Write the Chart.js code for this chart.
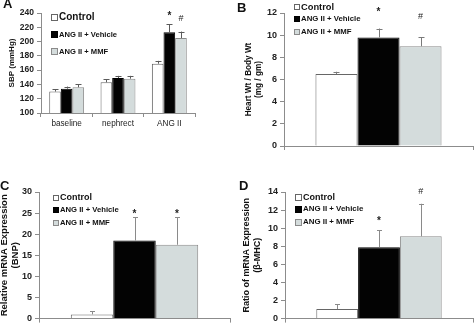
<!DOCTYPE html>
<html>
<head>
<meta charset="utf-8">
<script src="https://cdn.jsdelivr.net/npm/chart.js@4.4.1/dist/chart.umd.min.js"></script>
<style>
  html, body { margin: 0; padding: 0; background: #fff; }
  #wrap { position: relative; width: 474px; height: 327px; overflow: hidden; background: #fff; }
  #wrap canvas { position: absolute; }
</style>
</head>
<body>
<div id="wrap">
  <canvas id="pA" width="237" height="163" style="left:0;top:0"></canvas>
  <canvas id="pB" width="237" height="163" style="left:237px;top:0"></canvas>
  <canvas id="pC" width="237" height="164" style="left:0;top:163px"></canvas>
  <canvas id="pD" width="237" height="164" style="left:237px;top:163px"></canvas>
</div>
<script>
// ---- series names ----
const seriesNames = ['Control', 'ANG II + Vehicle', 'ANG II + MMF'];

// ---- A: systolic blood pressure (mmHg) ----
const sbpStages = ['baseline', 'nephrect', 'ANG II'];
const sbpControl = [130, 143, 169];
const sbpControlErr = [3, 4, 4];
const sbpVehicle = [134, 149, 213];
const sbpVehicleErr = [3, 3, 11];
const sbpMMF = [136, 148, 205];
const sbpMMFErr = [4, 4, 9];
const sbpMarks = [['', '', ''], ['', '', '*'], ['', '', '#']];
const sbpTicks = { min: 100, max: 240, step: 20 };

// ---- B: heart weight / body weight (mg / gm) ----
const hwControl = [6.5];
const hwControlErr = [0.2];
const hwVehicle = [9.8];
const hwVehicleErr = [0.8];
const hwMMF = [9.0];
const hwMMFErr = [0.8];
const hwMarks = [[''], ['*'], ['#']];
const hwTicks = { min: 0, max: 12, step: 2 };

// ---- C: relative BNP mRNA expression ----
const bnpControl = [1.0];
const bnpControlErr = [0.8];
const bnpVehicle = [18.5];
const bnpVehicleErr = [5.5];
const bnpMMF = [17.5];
const bnpMMFErr = [6.5];
const bnpMarks = [[''], ['*'], ['*']];
const bnpTicks = { min: 0, max: 30, step: 5 };

// ---- D: beta-MHC mRNA expression ratio ----
const mhcControl = [1.05];
const mhcControlErr = [0.55];
const mhcVehicle = [7.9];
const mhcVehicleErr = [1.85];
const mhcMMF = [9.1];
const mhcMMFErr = [3.6];
const mhcMarks = [[''], ['*'], ['#']];
const mhcTicks = { min: 0, max: 14, step: 2 };

const FONT = "'Liberation Sans', Arial, Helvetica, sans-serif";
Chart.defaults.font.family = FONT;

const fills = ['#ffffff', '#030303', '#d4dcdc'];
const edges = ['#666666', '#000000', '#8a8a8a'];
const axisGrey = '#8c8c8c';

// error bars, significance marks, legend and panel letter
const panelDecor = {
  id: 'panelDecor',
  afterDatasetsDraw(chart, args, o) {
    const ctx = chart.ctx;
    const ys = chart.scales.y;
    ctx.save();
    chart.data.datasets.forEach((ds, di) => {
      const meta = chart.getDatasetMeta(di);
      meta.data.forEach((bar, i) => {
        const yTop = ys.getPixelForValue(ds.data[i] + ds.errors[i]);
        const x = Math.round(bar.x) + 0.5;
        ctx.strokeStyle = o.errColor;
        ctx.lineWidth = 1;
        ctx.beginPath();
        ctx.moveTo(x, bar.y);
        ctx.lineTo(x, yTop);
        ctx.moveTo(x - o.cap, Math.round(yTop) + 0.5);
        ctx.lineTo(x + o.cap, Math.round(yTop) + 0.5);
        ctx.stroke();
        const m = ds.marks[i];
        if (m) {
          ctx.fillStyle = '#222';
          ctx.font = (m === '*' ? 'bold 10px ' : '9px ') + FONT;
          ctx.textAlign = 'center';
          ctx.textBaseline = 'middle';
          ctx.fillText(m, bar.x, yTop - (m === '*' ? o.starGap : o.hashGap));
        }
      });
    });
    // legend
    const L = o.legend;
    chart.data.datasets.forEach((ds, di) => {
      const cy = L.rows[di];
      const bx = Math.round(L.x) + 0.5;
      const by = Math.round(cy - L.box / 2) + 0.5;
      ctx.fillStyle = ds.backgroundColor;
      ctx.fillRect(bx, by, L.box, L.box);
      ctx.strokeStyle = ds.borderColor;
      ctx.lineWidth = 1;
      ctx.strokeRect(bx, by, L.box, L.box);
      ctx.fillStyle = '#111';
      ctx.font = 'bold ' + L.sizes[di] + 'px ' + FONT;
      ctx.textAlign = 'left';
      ctx.textBaseline = 'middle';
      ctx.fillText(ds.label, L.textX, cy + 0.5);
    });
    // panel letter
    ctx.fillStyle = '#111';
    ctx.font = 'bold 13px ' + FONT;
    ctx.textAlign = 'left';
    ctx.textBaseline = 'alphabetic';
    ctx.fillText(o.tag.text, o.tag.x, o.tag.y);
    ctx.restore();
  }
};

function makePanel(id, p) {
  const datasets = seriesNames.map((name, k) => ({
    label: name,
    data: p.values[k],
    errors: p.errors[k],
    marks: p.marks[k],
    backgroundColor: fills[k],
    borderColor: edges[k],
    borderWidth: 1,
    categoryPercentage: p.catPct,
    barPercentage: 1
  }));
  return new Chart(document.getElementById(id), {
    type: 'bar',
    data: { labels: p.labels, datasets },
    options: {
      responsive: false,
      animation: false,
      devicePixelRatio: 1,
      layout: { padding: { left: 0, right: p.padRight, top: p.padTop, bottom: 0 } },
      plugins: {
        legend: { display: false },
        tooltip: { enabled: false },
        panelDecor: p.decor
      },
      scales: {
        x: {
          afterFit(s) { s.height = p.xHeight; },
          grid: { drawOnChartArea: false, offset: true, tickLength: 4, color: axisGrey },
          border: { color: axisGrey },
          ticks: { color: '#222', font: { size: 8.2 }, padding: 2 }
        },
        y: {
          min: p.ticks.min,
          max: p.ticks.max,
          afterFit(s) { s.width = p.yWidth; },
          grid: { drawOnChartArea: false, tickLength: 4, color: axisGrey },
          border: { color: axisGrey },
          ticks: { stepSize: p.ticks.step, autoSkip: false, color: '#222', padding: 3,
                   font: { size: p.tickSize, weight: 'bold' } },
          title: { display: true, text: p.title, color: '#111',
                   font: { size: p.titleSize, weight: 'bold', lineHeight: p.titleLH },
                   padding: { top: p.titlePad, bottom: 0 } }
        }
      }
    },
    plugins: [panelDecor]
  });
}

makePanel('pA', {
  labels: sbpStages,
  values: [sbpControl, sbpVehicle, sbpMMF],
  errors: [sbpControlErr, sbpVehicleErr, sbpMMFErr],
  marks: sbpMarks,
  ticks: sbpTicks,
  catPct: 0.68,
  yWidth: 41, padRight: 42, padTop: 13, xHeight: 50,
  tickSize: 8.5,
  title: 'SBP (mmHg)', titleSize: 8, titleLH: 1.2, titlePad: 7,
  decor: {
    errColor: '#5a5a5a', cap: 3, starGap: 8, hashGap: 13,
    legend: { x: 51, rows: [16.5, 34, 51], box: 6, textX: 59, sizes: [10, 7.6, 7.6] },
    tag: { text: 'A', x: 3, y: 8 }
  }
});

makePanel('pB', {
  labels: [''],
  values: [hwControl, hwVehicle, hwMMF],
  errors: [hwControlErr, hwVehicleErr, hwMMFErr],
  marks: hwMarks,
  ticks: hwTicks,
  catPct: 0.667,
  yWidth: 47, padRight: 1, padTop: 13, xHeight: 17,
  tickSize: 9,
  title: ['Heart Wt / Body Wt', '(mg / gm)'], titleSize: 8.2, titleLH: 1.22, titlePad: 6.7,
  decor: {
    errColor: '#7a7a7a', cap: 3, starGap: 16, hashGap: 21,
    legend: { x: 57, rows: [6.5, 18.5, 31], box: 5, textX: 64, sizes: [9.3, 7.8, 7.8] },
    tag: { text: 'B', x: 0, y: 12 }
  }
});

makePanel('pC', {
  labels: [''],
  values: [bnpControl, bnpVehicle, bnpMMF],
  errors: [bnpControlErr, bnpVehicleErr, bnpMMFErr],
  marks: bnpMarks,
  ticks: bnpTicks,
  catPct: 0.667,
  yWidth: 39, padRight: 7, padTop: 29, xHeight: 3,
  tickSize: 9,
  title: ['Relative mRNA Expression', '(BNP)'], titleSize: 9.5, titleLH: 1.16, titlePad: -1.5,
  decor: {
    errColor: '#8a8a8a', cap: 2.5, starGap: 3, hashGap: 6,
    legend: { x: 53, rows: [34.5, 46.5, 59.5], box: 5, textX: 60, sizes: [9, 7.7, 7.7] },
    tag: { text: 'C', x: 0, y: 27 }
  }
});

makePanel('pD', {
  labels: [''],
  values: [mhcControl, mhcVehicle, mhcMMF],
  errors: [mhcControlErr, mhcVehicleErr, mhcMMFErr],
  marks: mhcMarks,
  ticks: mhcTicks,
  catPct: 0.667,
  yWidth: 48, padRight: 1, padTop: 29, xHeight: 3,
  tickSize: 9,
  title: ['Ratio of mRNA Expression', '(β-MHC)'], titleSize: 9, titleLH: 1.19, titlePad: 4.6,
  decor: {
    errColor: '#8a8a8a', cap: 2.5, starGap: 9, hashGap: 12,
    legend: { x: 58, rows: [34, 45.5, 58.5], box: 6, textX: 66, sizes: [9, 7.9, 7.9] },
    tag: { text: 'D', x: 2, y: 27 }
  }
});
</script>
</body>
</html>
